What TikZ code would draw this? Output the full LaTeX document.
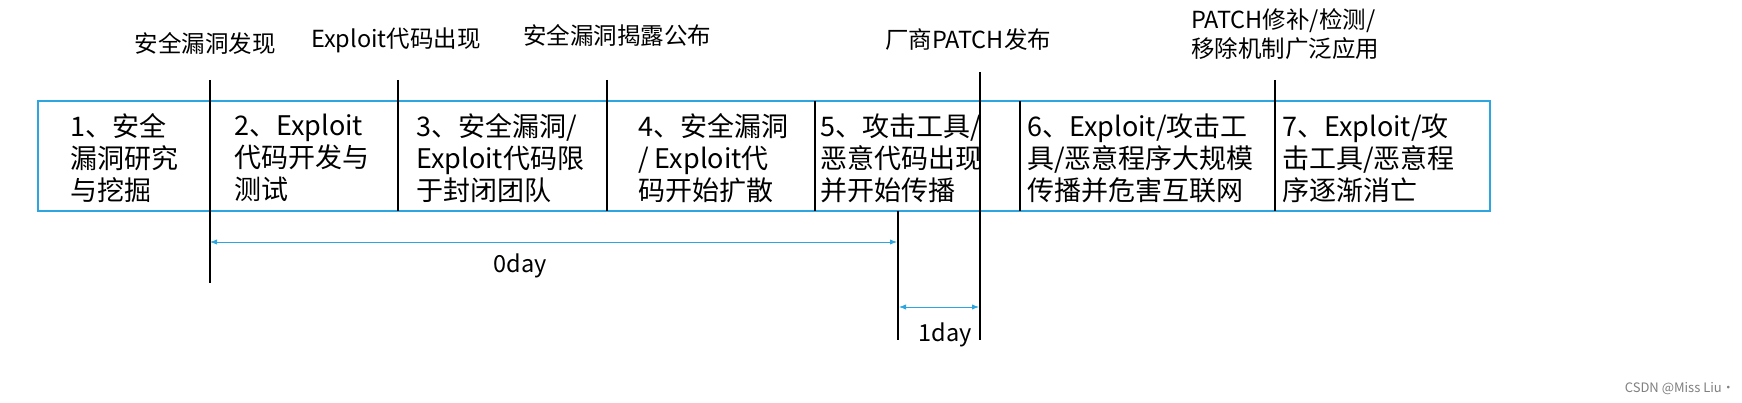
\documentclass[tikz,border=0pt]{standalone}
\usepackage{fontspec}
\setmainfont{Noto Sans CJK SC}
\usetikzlibrary{arrows.meta}
\definecolor{bx}{HTML}{2CA5E0}
\begin{document}
\begin{tikzpicture}[x=1pt,y=-1pt,
  cell/.style={anchor=west,align=left,inner sep=0pt,font=\fontsize{27}{32}\selectfont},
  top/.style={anchor=center,align=left,inner sep=0pt,font=\fontsize{23.5}{29}\selectfont},
  vl/.style={line width=1.3pt},
  arr/.style={bx,line width=0.8pt,{Latex[length=7pt]}-{Latex[length=7pt]}}]
\fill[white] (0,0) rectangle (1742,403);
\draw[bx,line width=1.8pt] (38,101) rectangle (1490,211);
\node[cell] (c1) at (70,158) {1、安全\\漏洞研究\\与挖掘};
\node[cell] (c2) at (234,158) {2、Exploit\\代码开发与\\测试};
\node[cell] (c3) at (416,158) {3、安全漏洞/\\Exploit代码限\\于封闭团队};
\node[cell] (c4) at (638,158) {4、安全漏洞\\/ Exploit代\\码开始扩散};
\node[cell] (c5) at (820,158) {5、攻击工具/\\恶意代码出现\\并开始传播};
\node[cell] (c6) at (1027,158) {6、Exploit/攻击工\\具/恶意程序大规模\\传播并危害互联网};
\node[cell] (c7) at (1282,158) {7、Exploit/攻\\击工具/恶意程\\序逐渐消亡};
\draw[vl] (210,80) -- (210,283);
\draw[vl] (398,80) -- (398,211);
\draw[vl] (607,80) -- (607,211);
\draw[vl] (815,101) -- (815,211);
\draw[vl] (1020,101) -- (1020,211);
\draw[vl] (1275,80) -- (1275,211);
\draw[vl] (898,211) -- (898,340);
\draw[vl] (980,72) -- (980,340);
\node[top] (t1) at (205,43) {安全漏洞发现};
\node[top] (t2) at (396,40) {Exploit代码出现};
\node[top] (t3) at (617,35) {安全漏洞揭露公布};
\node[top] (t4) at (968,40) {厂商PATCH发布};
\node[top] (t5) at (1285,34) {PATCH修补/检测/\\移除机制广泛应用};
\coordinate (a1) at (210,242); \coordinate (a2) at (897,242);
\draw[arr] (a1) -- (a2);
\node[top] (d0) at (520,266) {0day};
\coordinate (b1) at (899,307); \coordinate (b2) at (979,307);
\draw[arr] (b1) -- (b2);
\node[top] (d1) at (945,335) {1day};
\node[anchor=east,inner sep=0pt,text=gray,font=\fontsize{13}{15}\selectfont] (wm) at (1735,389) {CSDN @Miss Liu·};
\pgfresetboundingbox
\useasboundingbox (0,0) rectangle (1742,403);
\end{tikzpicture}
\end{document}
